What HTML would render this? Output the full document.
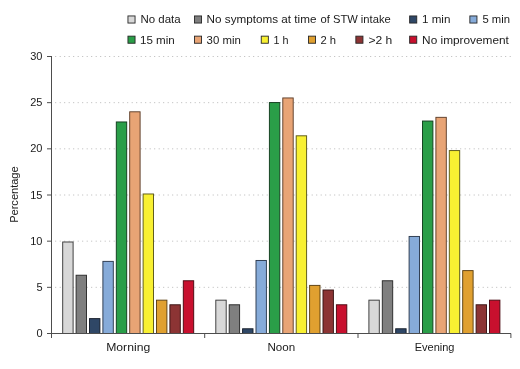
<!DOCTYPE html>
<html><head><meta charset="utf-8"><title>Chart</title>
<style>
html,body{margin:0;padding:0;background:#fff;}
body{width:520px;height:369px;overflow:hidden;}
svg{display:block;}
text{font-family:"Liberation Sans",sans-serif;font-size:11px;fill:#1a1a1a;}
</style></head><body>
<svg width="520" height="369" viewBox="0 0 520 369">
<rect width="520" height="369" fill="#fff"/>

<line x1="55.2" x2="511" y1="287.33" y2="287.33" stroke="#b8b8b8" stroke-width="1" stroke-dasharray="1 3.5"/>
<line x1="55.2" x2="511" y1="241.17" y2="241.17" stroke="#b8b8b8" stroke-width="1" stroke-dasharray="1 3.5"/>
<line x1="55.2" x2="511" y1="195.00" y2="195.00" stroke="#b8b8b8" stroke-width="1" stroke-dasharray="1 3.5"/>
<line x1="55.2" x2="511" y1="148.83" y2="148.83" stroke="#b8b8b8" stroke-width="1" stroke-dasharray="1 3.5"/>
<line x1="55.2" x2="511" y1="102.67" y2="102.67" stroke="#b8b8b8" stroke-width="1" stroke-dasharray="1 3.5"/>
<line x1="55.2" x2="511" y1="56.50" y2="56.50" stroke="#b8b8b8" stroke-width="1" stroke-dasharray="1 3.5"/>
<rect x="62.70" y="241.99" width="10.40" height="91.51" fill="#d8d8d8" stroke="#3a3a3a" stroke-width="0.95"/>
<rect x="76.10" y="275.23" width="10.40" height="58.27" fill="#7f7f7f" stroke="#2a2a2a" stroke-width="0.95"/>
<rect x="89.50" y="318.63" width="10.40" height="14.87" fill="#2f4766" stroke="#141c28" stroke-width="0.95"/>
<rect x="102.90" y="261.38" width="10.40" height="72.12" fill="#86abd9" stroke="#2c3a4e" stroke-width="0.95"/>
<rect x="116.30" y="121.96" width="10.40" height="211.54" fill="#2a9e48" stroke="#123d1e" stroke-width="0.95"/>
<rect x="129.70" y="111.80" width="10.40" height="221.70" fill="#e8a475" stroke="#5e3f2a" stroke-width="0.95"/>
<rect x="143.10" y="193.98" width="10.40" height="139.52" fill="#f8f032" stroke="#5a5718" stroke-width="0.95"/>
<rect x="156.50" y="300.16" width="10.40" height="33.34" fill="#e0a030" stroke="#5c4012" stroke-width="0.95"/>
<rect x="169.90" y="304.78" width="10.40" height="28.72" fill="#8c3434" stroke="#381414" stroke-width="0.95"/>
<rect x="183.30" y="280.77" width="10.40" height="52.73" fill="#c8102e" stroke="#4a0810" stroke-width="0.95"/>
<rect x="215.80" y="300.16" width="10.40" height="33.34" fill="#d8d8d8" stroke="#3a3a3a" stroke-width="0.95"/>
<rect x="229.20" y="304.78" width="10.40" height="28.72" fill="#7f7f7f" stroke="#2a2a2a" stroke-width="0.95"/>
<rect x="242.60" y="328.78" width="10.40" height="4.72" fill="#2f4766" stroke="#141c28" stroke-width="0.95"/>
<rect x="256.00" y="260.46" width="10.40" height="73.04" fill="#86abd9" stroke="#2c3a4e" stroke-width="0.95"/>
<rect x="269.40" y="102.57" width="10.40" height="230.93" fill="#2a9e48" stroke="#123d1e" stroke-width="0.95"/>
<rect x="282.80" y="97.95" width="10.40" height="235.55" fill="#e8a475" stroke="#5e3f2a" stroke-width="0.95"/>
<rect x="296.20" y="135.81" width="10.40" height="197.69" fill="#f8f032" stroke="#5a5718" stroke-width="0.95"/>
<rect x="309.60" y="285.39" width="10.40" height="48.11" fill="#e0a030" stroke="#5c4012" stroke-width="0.95"/>
<rect x="323.00" y="290.00" width="10.40" height="43.50" fill="#8c3434" stroke="#381414" stroke-width="0.95"/>
<rect x="336.40" y="304.78" width="10.40" height="28.72" fill="#c8102e" stroke="#4a0810" stroke-width="0.95"/>
<rect x="368.90" y="300.16" width="10.40" height="33.34" fill="#d8d8d8" stroke="#3a3a3a" stroke-width="0.95"/>
<rect x="382.30" y="280.77" width="10.40" height="52.73" fill="#7f7f7f" stroke="#2a2a2a" stroke-width="0.95"/>
<rect x="395.70" y="328.78" width="10.40" height="4.72" fill="#2f4766" stroke="#141c28" stroke-width="0.95"/>
<rect x="409.10" y="236.45" width="10.40" height="97.05" fill="#86abd9" stroke="#2c3a4e" stroke-width="0.95"/>
<rect x="422.50" y="121.03" width="10.40" height="212.47" fill="#2a9e48" stroke="#123d1e" stroke-width="0.95"/>
<rect x="435.90" y="117.34" width="10.40" height="216.16" fill="#e8a475" stroke="#5e3f2a" stroke-width="0.95"/>
<rect x="449.30" y="150.58" width="10.40" height="182.92" fill="#f8f032" stroke="#5a5718" stroke-width="0.95"/>
<rect x="462.70" y="270.61" width="10.40" height="62.89" fill="#e0a030" stroke="#5c4012" stroke-width="0.95"/>
<rect x="476.10" y="304.78" width="10.40" height="28.72" fill="#8c3434" stroke="#381414" stroke-width="0.95"/>
<rect x="489.50" y="300.16" width="10.40" height="33.34" fill="#c8102e" stroke="#4a0810" stroke-width="0.95"/>
<path d="M51.5 56V338 M47 333.5H511 M204.7 333.5V338 M358 333.5V338 M510.9 333.5V338" stroke="#4d4d4d" stroke-width="1" fill="none"/>
<text x="42.5" y="337.00" text-anchor="end">0</text>
<line x1="47" x2="51.5" y1="287.33" y2="287.33" stroke="#4d4d4d" stroke-width="1"/>
<text x="42.5" y="290.83" text-anchor="end">5</text>
<line x1="47" x2="51.5" y1="241.17" y2="241.17" stroke="#4d4d4d" stroke-width="1"/>
<text x="42.5" y="244.67" text-anchor="end">10</text>
<line x1="47" x2="51.5" y1="195.00" y2="195.00" stroke="#4d4d4d" stroke-width="1"/>
<text x="42.5" y="198.50" text-anchor="end">15</text>
<line x1="47" x2="51.5" y1="148.83" y2="148.83" stroke="#4d4d4d" stroke-width="1"/>
<text x="42.5" y="152.33" text-anchor="end">20</text>
<line x1="47" x2="51.5" y1="102.67" y2="102.67" stroke="#4d4d4d" stroke-width="1"/>
<text x="42.5" y="106.17" text-anchor="end">25</text>
<line x1="47" x2="51.5" y1="56.50" y2="56.50" stroke="#4d4d4d" stroke-width="1"/>
<text x="42.5" y="60.00" text-anchor="end">30</text>
<text x="128.2" y="351" text-anchor="middle" textLength="44" lengthAdjust="spacingAndGlyphs">Morning</text>
<text x="281.3" y="351" text-anchor="middle" textLength="27.7" lengthAdjust="spacingAndGlyphs">Noon</text>
<text x="434.6" y="351" text-anchor="middle" textLength="39.8" lengthAdjust="spacingAndGlyphs">Evening</text>
<text transform="translate(17.6 194.6) rotate(-90)" text-anchor="middle" textLength="56.4" lengthAdjust="spacingAndGlyphs">Percentage</text>
<rect x="127.95" y="15.95" width="7.1" height="7.1" fill="#d8d8d8" stroke="#262626" stroke-width="0.9"/>
<text x="140.5" y="23.3" textLength="40.2" lengthAdjust="spacingAndGlyphs">No data</text>
<rect x="194.45" y="15.95" width="7.1" height="7.1" fill="#7f7f7f" stroke="#262626" stroke-width="0.9"/>
<text x="206.6" y="23.3" textLength="109.8" lengthAdjust="spacingAndGlyphs">No symptoms at time</text>
<text x="320.5" y="23.3" textLength="70.2" lengthAdjust="spacingAndGlyphs">of STW intake</text>
<rect x="409.65" y="15.95" width="7.1" height="7.1" fill="#2f4766" stroke="#262626" stroke-width="0.9"/>
<text x="422.0" y="23.3" textLength="28.4" lengthAdjust="spacingAndGlyphs">1 min</text>
<rect x="469.85" y="15.95" width="7.1" height="7.1" fill="#86abd9" stroke="#262626" stroke-width="0.9"/>
<text x="482.4" y="23.3" textLength="27.6" lengthAdjust="spacingAndGlyphs">5 min</text>
<rect x="127.95" y="36.15" width="7.1" height="7.1" fill="#2a9e48" stroke="#262626" stroke-width="0.9"/>
<text x="140.0" y="43.5" textLength="34.8" lengthAdjust="spacingAndGlyphs">15 min</text>
<rect x="194.45" y="36.15" width="7.1" height="7.1" fill="#e8a475" stroke="#262626" stroke-width="0.9"/>
<text x="206.6" y="43.5" textLength="34.2" lengthAdjust="spacingAndGlyphs">30 min</text>
<rect x="261.25" y="36.15" width="7.1" height="7.1" fill="#f8f032" stroke="#262626" stroke-width="0.9"/>
<text x="273.6" y="43.5" textLength="15" lengthAdjust="spacingAndGlyphs">1 h</text>
<rect x="308.45" y="36.15" width="7.1" height="7.1" fill="#e0a030" stroke="#262626" stroke-width="0.9"/>
<text x="320.5" y="43.5" textLength="15.6" lengthAdjust="spacingAndGlyphs">2 h</text>
<rect x="355.85" y="36.15" width="7.1" height="7.1" fill="#8c3434" stroke="#262626" stroke-width="0.9"/>
<text x="368.5" y="43.5" textLength="23.8" lengthAdjust="spacingAndGlyphs">&gt;2 h</text>
<rect x="409.65" y="36.15" width="7.1" height="7.1" fill="#c8102e" stroke="#262626" stroke-width="0.9"/>
<text x="422.1" y="43.5" textLength="86.8" lengthAdjust="spacingAndGlyphs">No improvement</text>
</svg></body></html>
